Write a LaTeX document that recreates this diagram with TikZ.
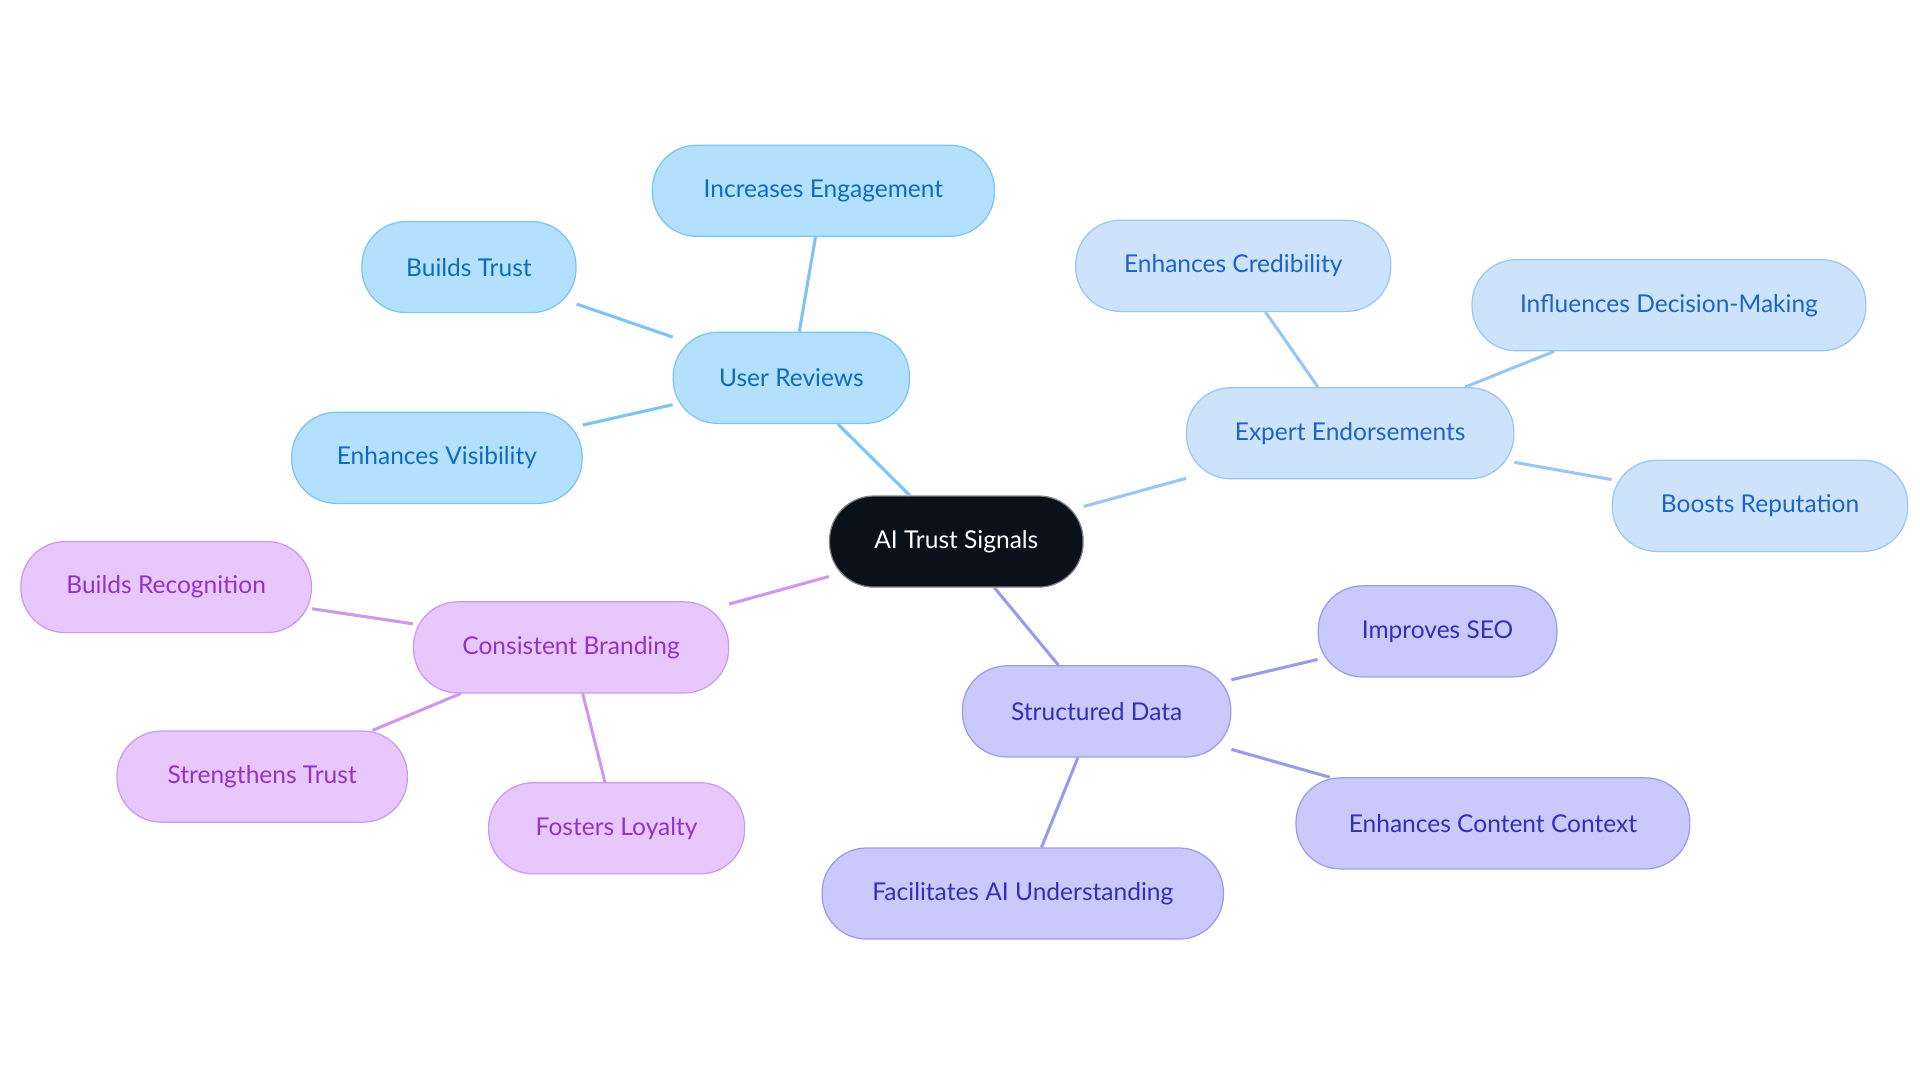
\documentclass[tikz,border=0pt]{standalone}
\usepackage{fontspec}
\setmainfont{Lato}
\definecolor{cdark}{HTML}{0B111B}
\definecolor{bfill}{HTML}{B3E0FD}\definecolor{bdraw}{HTML}{7CC4F2}\definecolor{btext}{HTML}{0F6CBD}
\definecolor{lfill}{HTML}{CCE3FB}\definecolor{ldraw}{HTML}{9AC6F2}\definecolor{ltext}{HTML}{1C64C8}
\definecolor{pfill}{HTML}{E8C8FC}\definecolor{pdraw}{HTML}{CC99EE}\definecolor{ptext}{HTML}{9331C8}
\definecolor{ifill}{HTML}{C9C9FC}\definecolor{idraw}{HTML}{9B9BEC}\definecolor{itext}{HTML}{3030B8}
\begin{document}
\begin{tikzpicture}[x=1bp,y=-1bp,
  box/.style={rounded corners=36bp,minimum height=74bp,inner sep=0pt,font=\fontsize{20}{24}\selectfont,line width=1bp},
  ub/.style={box,fill=bfill,draw=bdraw,text=btext},
  eb/.style={box,fill=lfill,draw=ldraw,text=ltext},
  pb/.style={box,fill=pfill,draw=pdraw,text=ptext},
  ib/.style={box,fill=ifill,draw=idraw,text=itext},
  lk/.style={line width=2.5bp}]
\useasboundingbox (0,0) rectangle (1560,880);
\node[box,fill=cdark,draw=gray,text=white,minimum width=206bp] (c) at (777,440) {AI Trust Signals};
\node[ub,minimum width=192bp] (ur) at (643,307) {User Reviews};
\node[ub,minimum width=278bp] (ie) at (669,155) {Increases Engagement};
\node[ub,minimum width=174bp] (bt) at (381,217) {Builds Trust};
\node[ub,minimum width=236bp] (ev) at (355,372) {Enhances Visibility};
\node[eb,minimum width=266bp] (ee) at (1097,352) {Expert Endorsements};
\node[eb,minimum width=256bp] (ec) at (1002,216) {Enhances Credibility};
\node[eb,minimum width=320bp] (id) at (1356,248) {Influences Decision-Making};
\node[eb,minimum width=240bp] (br) at (1430,411) {Boosts Reputation};
\node[pb,minimum width=256bp] (cb) at (464,526) {Consistent Branding};
\node[pb,minimum width=236bp] (bre) at (135,477) {Builds Recognition};
\node[pb,minimum width=236bp] (st) at (213,631) {Strengthens Trust};
\node[pb,minimum width=208bp] (fl) at (501,673) {Fosters Loyalty};
\node[ib,minimum width=218bp] (sd) at (891,578) {Structured Data};
\node[ib,minimum width=194bp] (is) at (1168,513) {Improves SEO};
\node[ib,minimum width=320bp] (ecc) at (1213,669) {Enhances Content Context};
\node[ib,minimum width=326bp] (fa) at (831,726) {Facilitates AI Understanding};
\begin{scope}[on background layer/.style={}]
\end{scope}
\begin{pgfinterruptboundingbox}\end{pgfinterruptboundingbox}
\draw[lk,bdraw] (c) -- (ur); \draw[lk,bdraw] (ur) -- (ie); \draw[lk,bdraw] (ur) -- (bt); \draw[lk,bdraw] (ur) -- (ev);
\draw[lk,ldraw] (c) -- (ee); \draw[lk,ldraw] (ee) -- (ec); \draw[lk,ldraw] (ee) -- (id); \draw[lk,ldraw] (ee) -- (br);
\draw[lk,pdraw] (c) -- (cb); \draw[lk,pdraw] (cb) -- (bre); \draw[lk,pdraw] (cb) -- (st); \draw[lk,pdraw] (cb) -- (fl);
\draw[lk,idraw] (c) -- (sd); \draw[lk,idraw] (sd) -- (is); \draw[lk,idraw] (sd) -- (ecc); \draw[lk,idraw] (sd) -- (fa);
\end{tikzpicture}
\end{document}
